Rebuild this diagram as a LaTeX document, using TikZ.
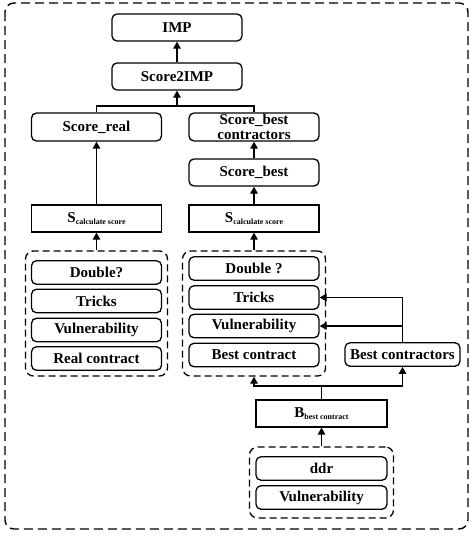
\documentclass[tikz,border=0pt]{standalone}
\usepackage{fontspec}
\setmainfont{Liberation Serif}
\usetikzlibrary{arrows.meta}
\newcommand{\sub}[1]{\raisebox{-0.25ex}{\fontsize{8}{8}\selectfont #1}}
\begin{document}
\begin{tikzpicture}[x=1pt,y=-1pt,line width=1.3pt,
	box/.style={draw,rounded corners=5pt,minimum width=130pt,minimum height=23.5pt,inner sep=1pt,
		font=\fontsize{15}{15}\selectfont\bfseries,align=center},
	sbox/.style={box,sharp corners,minimum height=27pt},
	group/.style={draw,dashed,dash pattern=on 7pt off 4pt,rounded corners=8pt},
	arr/.style={-{Triangle[length=7pt,width=7.5pt]}}]
			\useasboundingbox (0,0) rectangle (474,538);
			\draw [dashed,dash pattern=on 9pt off 5pt,line width=1.4pt,rounded corners=9pt] (5,3) rectangle (468,529);
			% top part
			\node [box,minimum height=27pt] (imp) at (177,27.5) {IMP};
			\node [box,minimum height=27pt] (s2i) at (177,76.5) {Score2IMP};
			\node [box,minimum height=28pt] (sreal) at (96.5,127) {Score\_real};
			\node [box,minimum height=28pt,font=\fontsize{15}{14.5}\selectfont\bfseries] (sbc) at (254,127) {Score\_best\\contractors};
			\node [box,minimum height=27pt] (sbest) at (254,172.5) {Score\_best};
			\node [sbox] (sl) at (96.5,218.5) {S\sub{calculate score}};
			\node [sbox] (sr) at (254,218.5) {S\sub{calculate score}};
			% groups
			\node [group,minimum width=142pt,minimum height=125pt] (gl) at (96.5,313.5) {};
			\node [group,minimum width=143pt,minimum height=125pt] (gr) at (254,313.5) {};
			\node [box] (dl) at (96.5,272.5) {Double?};
			\node [box] (tl) at (96.5,301) {Tricks};
			\node [box] (vl) at (96.5,330) {Vulnerability};
			\node [box] (rc) at (96.5,358.5) {Real contract};
			\node [box] (dr) at (254,268.5) {Double ?};
			\node [box] (tr) at (254,297.5) {Tricks};
			\node [box] (vr) at (254,326) {Vulnerability};
			\node [box] (bct) at (254,355) {Best contract};
			\node [box,minimum width=115pt] (bc) at (402.5,354.5) {Best contractors};
			% bottom part
			\node [sbox,minimum width=131pt] (b) at (321.5,413.5) {B\sub{best contract}};
			\node [group,minimum width=144pt,minimum height=71pt] (gb) at (321.5,482.5) {};
			\node [box,minimum width=131pt] (ddr) at (321.5,468.5) {ddr};
			\node [box,minimum width=131pt] (vb) at (321.5,497.5) {Vulnerability};
			% connectors
			\coordinate (join) at (177,106);
			\coordinate (bjoin) at (321.5,386);
			\draw [arr] (s2i.north)--(imp.south);
			\draw (sreal.north) |- (join);
			\draw (sbc.north) |- (join);
			\draw [arr] (join)--(s2i.south);
			\draw [arr] (sl.north)--(sreal.south);
			\draw [arr] (sbest.north)--(sbc.south);
			\draw [arr] (sr.north)--(sbest.south);
			\draw [arr] (gl.north)--(sl.south);
			\draw [arr] (gr.north)--(sr.south);
			\draw [arr] (bc.north) |- (tr.east);
			\draw [arr] (bc.north) |- (vr.east);
			\draw (b.north)--(bjoin);
			\draw [arr] (bjoin) -| (gr.south);
			\draw [arr] (bjoin) -| (bc.south);
			\draw [arr] (gb.north)--(b.south);
\end{tikzpicture}
\end{document}
